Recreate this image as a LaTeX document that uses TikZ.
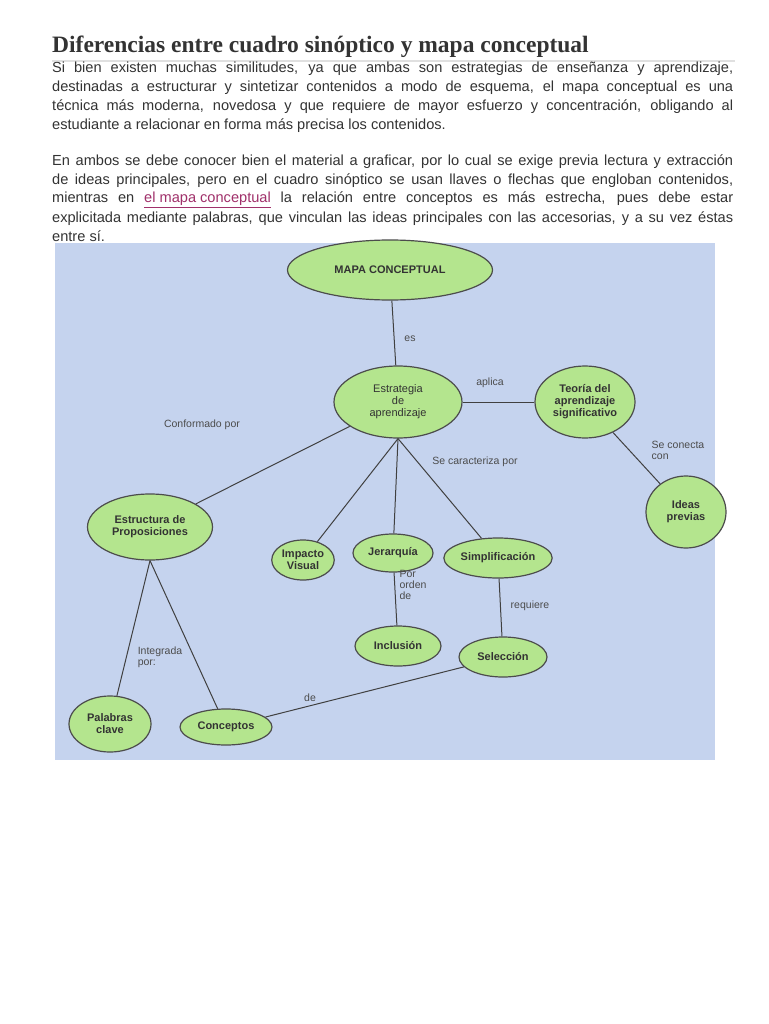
\documentclass[tikz,border=0pt]{standalone}
\usepackage{fontspec}
\setmainfont{Liberation Sans}
\newfontfamily\titlefont{Liberation Serif}
\usetikzlibrary{shapes.geometric,positioning}
\definecolor{mapbg}{HTML}{C5D3EE}
\definecolor{nodegreen}{HTML}{B4E58E}
\definecolor{linkred}{HTML}{A0306A}
\newcommand{\jline}[1]{\parbox{681pt}{\parfillskip=0pt #1}}
\tikzset{
  concept/.style={ellipse, draw=black!70, line width=1.2pt, fill=nodegreen,
    inner sep=1pt, align=center, font=\fontsize{11}{12}\selectfont\bfseries, text=black!80},
  link/.style={font=\fontsize{10.5}{11}\selectfont, text=black!70, align=left},
  body/.style={anchor=west, inner sep=0pt, font=\fontsize{14.6}{17}\selectfont, text=black!80}
}
\begin{document}
\begin{tikzpicture}[x=1pt,y=-1pt]
  \useasboundingbox[fill=white] (0,0) rectangle (768,1024);
  % title and text
  \node[anchor=west, inner sep=0pt, font=\titlefont\fontsize{23.5}{24}\selectfont\bfseries, text=black!80] (title) at (52,47) {Diferencias entre cuadro sinóptico y mapa conceptual};
  \draw[black!12, line width=1.5pt] (52,61) -- (735,61);
  \node[body] (l1) at (52,69) {\jline{Si bien existen muchas similitudes, ya que ambas son estrategias de enseñanza y aprendizaje,}};
  \node[body] (l2) at (52,88) {\jline{destinadas a estructurar y sintetizar contenidos a modo de esquema, el mapa conceptual es una}};
  \node[body] (l3) at (52,107) {\jline{técnica más moderna, novedosa y que requiere de mayor esfuerzo y concentración, obligando al}};
  \node[body] (l4) at (52,126) {estudiante a relacionar en forma más precisa los contenidos.};
  \node[body] (l5) at (52,162) {\jline{En ambos se debe conocer bien el material a graficar, por lo cual se exige previa lectura y extracción}};
  \node[body] (l6) at (52,181) {\jline{de ideas principales, pero en el cuadro sinóptico se usan llaves o flechas que engloban contenidos,}};
  \node[body] (l7) at (52,200) {\jline{mientras en \textcolor{linkred}{\underline{el mapa conceptual}} la relación entre conceptos es más estrecha, pues debe estar}};
  \node[body] (l8) at (52,219) {\jline{explicitada mediante palabras, que vinculan las ideas principales con las accesorias, y a su vez éstas}};
  \node[body] (l9) at (52,236) {entre sí.};
  % concept map
  \fill[mapbg] (55,243) rectangle (715,760);
  \node[concept, minimum width=205pt, minimum height=60pt] (mapa) at (390,270) {MAPA CONCEPTUAL};
  \node[concept, minimum width=128pt, minimum height=72pt, font=\fontsize{11}{12}\selectfont] (estr) at (398,402) {Estrategia\\de\\aprendizaje};
  \node[concept, minimum width=100pt, minimum height=72pt] (teoria) at (585,402) {Teoría del\\aprendizaje\\significativo};
  \node[concept, minimum width=80pt, minimum height=72pt] (ideas) at (686,512) {Ideas\\previas};
  \node[concept, minimum width=125pt, minimum height=66pt] (estruc) at (150,527) {Estructura de\\Proposiciones};
  \node[concept, minimum width=60pt, minimum height=40pt] (impacto) at (303,560) {Impacto\\Visual};
  \node[concept, minimum width=80pt, minimum height=38pt] (jerar) at (393,553) {Jerarquía};
  \node[concept, minimum width=100pt, minimum height=40pt] (simpl) at (498,558) {Simplificación};
  \node[concept, minimum width=86pt, minimum height=40pt] (inclu) at (398,646) {Inclusión};
  \node[concept, minimum width=88pt, minimum height=40pt] (selec) at (503,657) {Selección};
  \node[concept, minimum width=82pt, minimum height=56pt] (palab) at (110,724) {Palabras\\clave};
  \node[concept, minimum width=92pt, minimum height=36pt] (concep) at (226,727) {Conceptos};
  % connectors
  \begin{scope}[black!75, line width=1pt]
    \draw (mapa) -- (estr);
    \draw (estr) -- (teoria);
    \draw (teoria) -- (ideas);
    \draw (estr) -- (estruc);
    \draw (estr.south) -- (impacto);
    \draw (estr.south) -- (jerar);
    \draw (estr.south) -- (simpl);
    \draw (jerar) -- (inclu);
    \draw (simpl) -- (selec);
    \draw (estruc.south) -- (palab);
    \draw (estruc.south) -- (concep);
    \draw (selec) -- (concep);
  \end{scope}
  % link labels
  \node[link] (es) at (410,339) {es};
  \node[link] (aplica) at (490,383) {aplica};
  \node[link] (conf) at (202,425) {Conformado por};
  \node[link] (carac) at (475,462) {Se caracteriza por};
  \node[link] (conecta) at (678,450) {Se conecta\\con};
  \node[link] (orden) at (413,585) {Por\\orden\\de};
  \node[link] (req) at (530,606) {requiere};
  \node[link] (integ) at (160,657) {Integrada\\por:};
  \node[link] (de) at (310,698) {de};
\end{tikzpicture}
\end{document}
